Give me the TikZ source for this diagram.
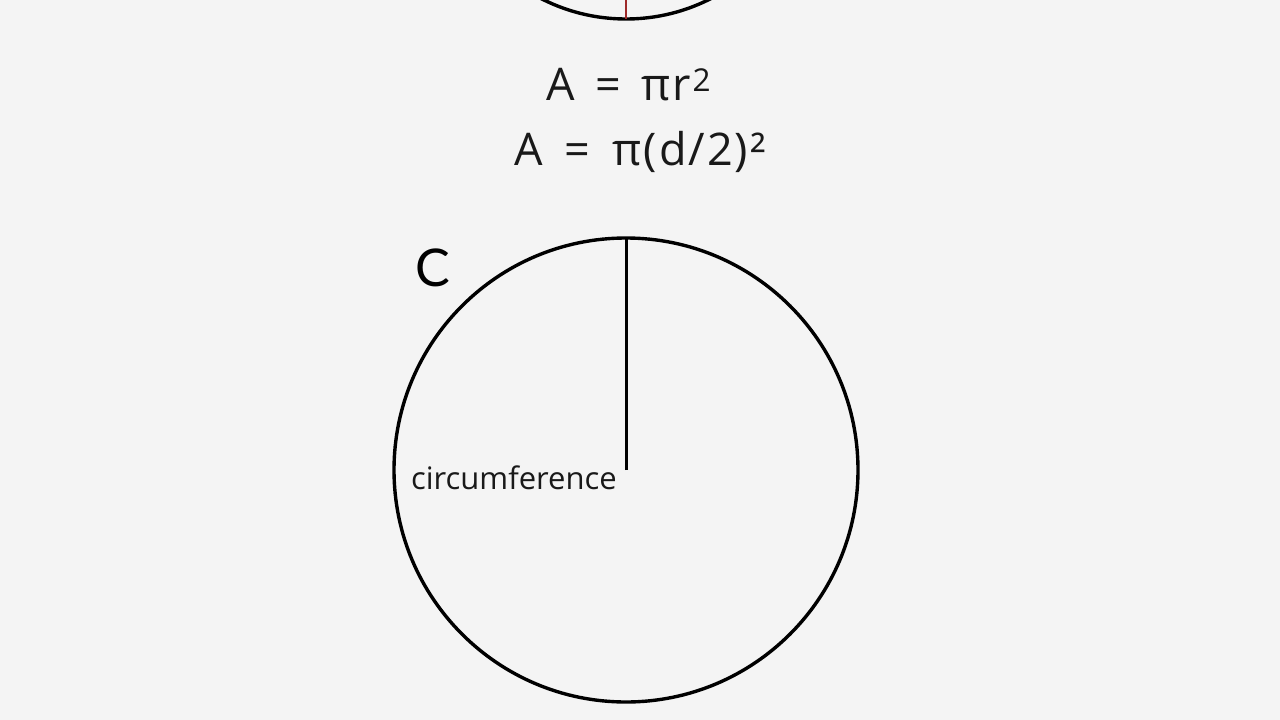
\documentclass[tikz,border=0pt]{standalone}
\usepackage{fontspec}
\setmainfont{Open Sans}
\newfontfamily\latofont{Lato}
\definecolor{bg}{HTML}{F4F4F4}
\definecolor{radred}{HTML}{9E2A2A}
\tikzset{
  ring/.style={draw=black, line width=3.4pt},
  radius line/.style={line width=3pt, draw=black},
  formula/.style={font=\fontsize{45}{50}\selectfont, text=black!90, inner sep=0pt},
  lbl/.style={font=\fontsize{31}{34}\selectfont, text=black!90, inner sep=0pt}
}
\newcommand{\kk}{\hspace{2pt}}
\begin{document}
\begin{tikzpicture}[x=1pt,y=-1pt]
\useasboundingbox[fill=bg] (0,0) rectangle (1280,720);
% top partially visible circle
\coordinate (topcen) at (626,-167);
\coordinate (topbot) at (626,19);
\coordinate (topedge) at (626,0);
\draw[ring] (topcen) circle[radius=186];
\draw[line width=2.2pt, draw=radred] (topedge) -- (topbot);
% formulas
\node[formula] (f1) at (629,85) {A\hspace{20pt}=\hspace{20pt}π\kk r\textsuperscript{\kk 2}};
\node[formula] (f2) at (640,152) {A\hspace{22pt}=\hspace{22pt}π\kk(\kk d\kk/\kk 2\kk)\kk²};
% big circle
\coordinate (cen) at (626,470);
\coordinate (north) at (626,238);
\draw[ring] (cen) circle[radius=232];
\draw[radius line] (cen) -- (north);
\node[font=\latofont\fontsize{52}{56}\selectfont, inner sep=0pt] (C) at (433,268) {C};
\node[lbl, anchor=east] (circ) at (617,478) {circumference};
\end{tikzpicture}
\end{document}
